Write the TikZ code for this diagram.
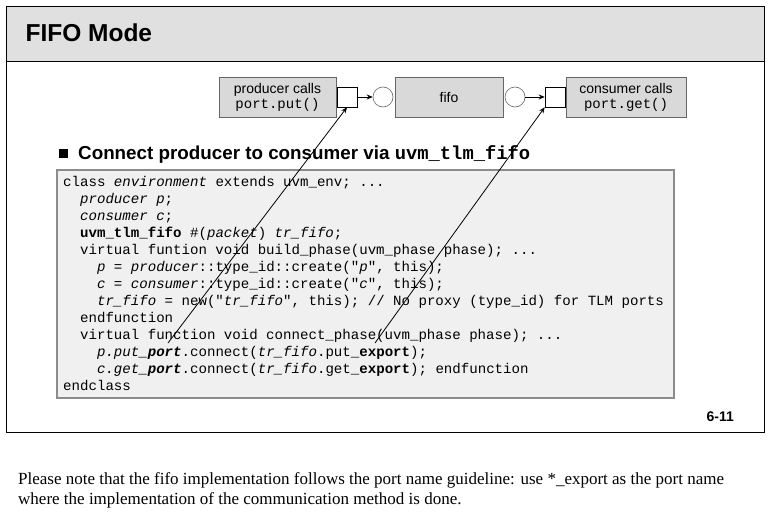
\documentclass[tikz,border=0pt]{standalone}
\usepackage{fontspec}
\setmainfont{Liberation Sans}
\newfontfamily\tms{Liberation Serif}
\setmonofont{Liberation Mono}
\usetikzlibrary{arrows.meta}
\begin{document}
\begin{tikzpicture}[x=1pt,y=-1pt,
  blk/.style={draw=black!60,fill=black!15,line width=0.8pt,minimum height=40pt,inner sep=0pt,align=center,font=\fontsize{14}{15}\selectfont},
  sq/.style={draw=black,fill=white,minimum size=20pt,inner sep=0pt,line width=0.6pt},
  crc/.style={draw=black!60,fill=white,circle,minimum size=20pt,inner sep=0pt,line width=0.6pt},
  arr/.style={-{Stealth[length=6pt,width=5pt]},line width=0.8pt},
  code/.style={anchor=base west,inner sep=0pt,font=\fontsize{14.1}{16}\ttfamily}]
\useasboundingbox (0,0) rectangle (770,519);
\fill[white] (0,0) rectangle (770,519);
\draw[fill=black!12,line width=0.8pt] (6,6) rectangle (764,61);
\draw[line width=0.8pt] (6,61) rectangle (764,432);
\node[anchor=west,font=\fontsize{24.5}{26}\bfseries] (title) at (22,33) {FIFO Mode};
% top diagram
\node[blk,minimum width=117pt] (prod) at (277.5,97) {producer calls\\\texttt{port.put()}};
\node[sq] (ps) at (347,97) {};
\node[crc] (c1) at (383,97) {};
\node[blk,minimum width=108pt] (fifo) at (449,97) {fifo};
\node[crc] (c2) at (515,97) {};
\node[sq] (cs) at (555,97) {};
\node[blk,minimum width=120pt] (cons) at (626,97) {consumer calls\\\texttt{port.get()}};
\draw[arr] (ps.east) -- (c1.west);
\draw[arr] (c2.east) -- (cs.west);
% bullet
\fill (59,149) rectangle (68,158);
\node[anchor=base west,inner sep=0pt,font=\fontsize{18.8}{20}\bfseries] (bul) at (78,159) {Connect producer to consumer via \texttt{uvm\_tlm\_fifo}};
% code box
\draw[draw=black!45,fill=black!6,line width=1.6pt] (57,170) rectangle (674,398);
\node[code] (l1) at (63,186) {class \textit{environment} extends uvm\_env; ...};
\node[code] (l2) at (63,203) {\ \ \textit{producer p};};
\node[code] (l3) at (63,220) {\ \ \textit{consumer c};};
\node[code] (l4) at (63,237) {\ \ \textbf{uvm\_tlm\_fifo} \#(\textit{packet}) \textit{tr\_fifo};};
\node[code] (l5) at (63,254) {\ \ virtual funtion void build\_phase(uvm\_phase phase); ...};
\node[code] (l6) at (63,271) {\ \ \ \ \textit{p} = \textit{producer}::type\_id::create("\textit{p}", this);};
\node[code] (l7) at (63,288) {\ \ \ \ \textit{c} = \textit{consumer}::type\_id::create("\textit{c}", this);};
\node[code] (l8) at (63,305) {\ \ \ \ \textit{tr\_fifo} = new("\textit{tr\_fifo}", this); // No proxy (type\_id) for TLM ports};
\node[code] (l9) at (63,322) {\ \ endfunction};
\node[code] (l10) at (63,339) {\ \ virtual function void connect\_phase(uvm\_phase phase); ...};
\node[code] (l11) at (63,356) {\ \ \ \ \textit{p.put\_}\textbf{\textit{port}}.connect(\textit{tr\_fifo}.put\_\textbf{export});};
\node[code] (l12) at (63,373) {\ \ \ \ \textit{c.get\_}\textbf{\textit{port}}.connect(\textit{tr\_fifo}.get\_\textbf{export}); endfunction};
\node[code] (l13) at (63,390) {endclass};
% pointer lines
\coordinate (a1) at (168,343);
\coordinate (a2) at (375,343);
\draw[arr] (a1) -- (ps.south);
\draw[arr] (a2) -- (cs.south west);
\node[anchor=base east,inner sep=0pt,font=\fontsize{14}{15}\bfseries] (pg) at (734,421) {6-11};
\node[anchor=north west,inner sep=0pt,align=left,font=\fontsize{17}{20}\tms] (note) at (18,472) {Please note that the fifo implementation follows the port name guideline: use *\_export as the port name\\where the implementation of the communication method is done.};
\end{tikzpicture}
\end{document}
